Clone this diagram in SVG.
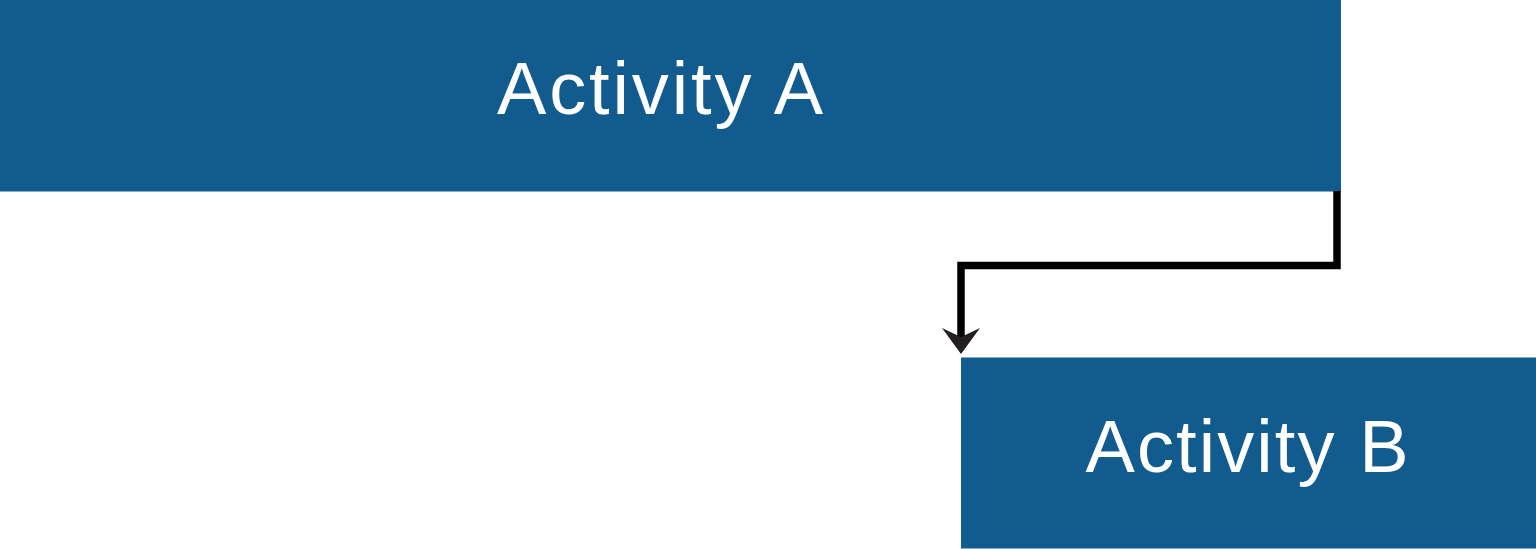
<svg xmlns="http://www.w3.org/2000/svg" width="1536" height="549" viewBox="0 0 1536 549">
<style>
.box{fill:#125B8E}
.lbl{font-family:"Liberation Sans",Arial,sans-serif;font-size:74px;fill:#ffffff}
.conn{fill:none;stroke:#000000;stroke-width:7.5}
</style>
<defs>
<marker id="arr" markerUnits="userSpaceOnUse" viewBox="0 0 26 38" markerWidth="26" markerHeight="38" refX="9" refY="19" orient="auto">
<path d="M0,0 L26,19 L0,38 L9,19 Z" fill="#231F20"/>
</marker>
</defs>
<rect width="1536" height="549" fill="#ffffff"/>
<g id="activity-a">
<rect class="box" x="0" y="0" width="1341" height="191.5"/>
<text class="lbl" x="660" y="114" text-anchor="middle" textLength="326" lengthAdjust="spacing">Activity A</text>
</g>
<g id="activity-b">
<rect class="box" x="961" y="357.5" width="575" height="191"/>
<text class="lbl" x="1247" y="472" text-anchor="middle" textLength="323" lengthAdjust="spacing">Activity B</text>
</g>
<g id="connectors">
<path class="conn" d="M1337,191 V265.5 H961 V337" marker-end="url(#arr)"/>
</g>
</svg>
